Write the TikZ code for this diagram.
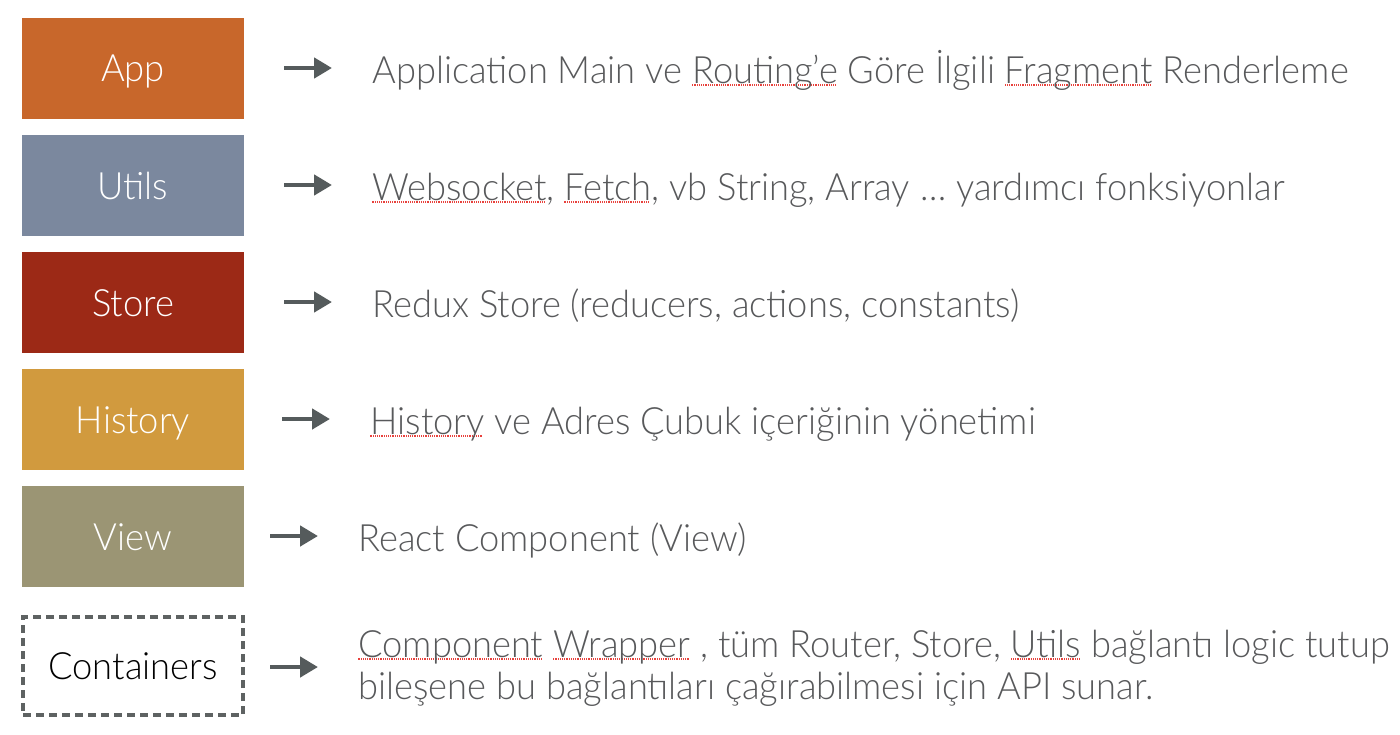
\documentclass[tikz,border=0pt]{standalone}
\usepackage{fontspec}
\setmainfont{Lato}[UprightFont=* Light, FakeStretch=0.965]
\usetikzlibrary{arrows.meta}
\definecolor{cApp}{HTML}{C8672B}
\definecolor{cUtils}{HTML}{7B889E}
\definecolor{cStore}{HTML}{9C2916}
\definecolor{cHist}{HTML}{D19A3E}
\definecolor{cView}{HTML}{9B9574}
\definecolor{txt}{HTML}{58595B}
\definecolor{arr}{HTML}{555B5C}
\definecolor{dash}{HTML}{5E6262}
\definecolor{spell}{HTML}{E8413C}
\newsavebox\splbox
\newcommand\spl[1]{\sbox\splbox{#1}\rlap{\textcolor{spell}{\raisebox{-1.3pt}{\hbox to\wd\splbox{\leaders\hbox{\rule{0.6pt}{0.6pt}\kern0.5pt}\hfil}}}}\usebox\splbox}
\tikzset{
  box/.style={minimum width=111pt, minimum height=50.5pt, inner sep=0pt,
    text height=13.5pt, text depth=0pt, font=\fontsize{18.8}{22}\selectfont, text=white},
  dbox/.style={box, fill=none, text=black, draw=dash, line width=2pt,
    dash pattern=on 4pt off 2.5pt, minimum width=110pt, minimum height=49pt},
  desc/.style={anchor=base west, inner sep=0pt, text=txt, font=\fontsize{18.8}{21}\selectfont, align=left},
  conn/.style={draw=arr, line width=2.4pt, -{Triangle[length=9pt,width=10pt]}}
}
\begin{document}
\begin{tikzpicture}[x=0.5pt,y=-0.5pt]
\useasboundingbox (0,0) rectangle (1400,734);
\fill[white] (0,0) rectangle (1400,734);
% boxes
\node[box, fill=cApp]   (app)   at (133,68)    {App};
\node[box, fill=cUtils] (utils) at (133,185.5) {Utils};
\node[box, fill=cStore] (store) at (133,302.5) {Store};
\node[box, fill=cHist]  (hist)  at (133,419.5) {History};
\node[box, fill=cView]  (view)  at (133,536.5) {View};
\node[dbox]             (cont)  at (133,666)   {Containers};
% descriptions
\node[desc] (dapp)   at (372,83)  {Application Main ve \spl{Routing’e} Göre İlgili \spl{Fragment} Renderleme};
\node[desc] (dutils) at (372,200) {\spl{Websocket}, \spl{Fetch}, vb String, Array … yardımcı fonksiyonlar};
\node[desc] (dstore) at (372,317) {Redux Store (reducers, actions, constants)};
\node[desc] (dhist)  at (370,434) {\spl{History} ve Adres Çubuk içeriğinin yönetimi};
\node[desc] (dview)  at (358,551) {React Component (View)};
\node[desc] (dcont1) at (358,657) {\spl{Component} \spl{Wrapper} , tüm Router, Store, \spl{Utils} bağlantı logic tutup};
\node[desc] (dcont2) at (358,699) {bileşene bu bağlantıları çağırabilmesi için API sunar.};
% arrows
\coordinate (a1s) at (284,68);  \coordinate (a1e) at (332,68);
\coordinate (a2s) at (284,185); \coordinate (a2e) at (332,185);
\coordinate (a3s) at (284,302); \coordinate (a3e) at (332,302);
\coordinate (a4s) at (282,419); \coordinate (a4e) at (330,419);
\coordinate (a5s) at (270,536); \coordinate (a5e) at (318,536);
\coordinate (a6s) at (270,667); \coordinate (a6e) at (318,667);
\draw[conn] (a1s) -- (a1e);
\draw[conn] (a2s) -- (a2e);
\draw[conn] (a3s) -- (a3e);
\draw[conn] (a4s) -- (a4e);
\draw[conn] (a5s) -- (a5e);
\draw[conn] (a6s) -- (a6e);
\end{tikzpicture}
\end{document}
